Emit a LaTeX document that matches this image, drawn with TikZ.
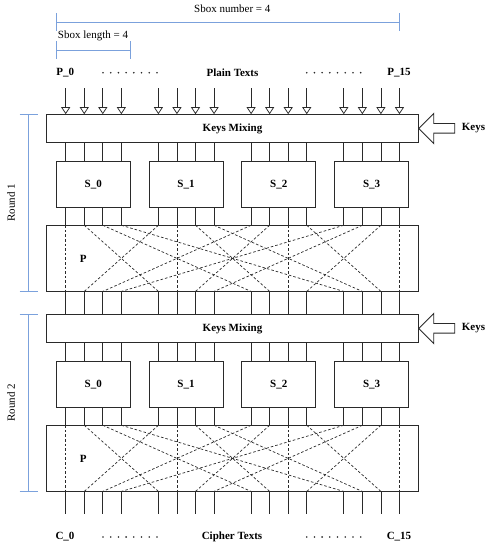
\documentclass[tikz,border=0pt]{standalone}
\usepackage{fontspec}
\setmainfont{Liberation Serif}
\usetikzlibrary{arrows.meta,calc}
\definecolor{dimblue}{HTML}{7BA1DC}
\definecolor{boxline}{HTML}{2A2A2A}
\tikzset{
  box/.style={draw=boxline, line width=0.85pt, minimum width=#1, inner sep=0pt},
  wire/.style={draw=boxline, line width=0.75pt},
  perm/.style={draw=boxline, line width=0.7pt, dash pattern=on 2.6pt off 2pt},
  inarrow/.style={draw=boxline, line width=0.75pt, -{Triangle[open, width=9pt, length=7pt, line width=0.75pt]}},
  dim/.style={draw=dimblue, line width=0.9pt},
  lbl/.style={font=\fontsize{11}{13}\selectfont\bfseries, inner sep=0pt},
  dimlbl/.style={font=\fontsize{11}{13}\selectfont, inner sep=0pt},
  dotmark/.style={fill=boxline, draw=none},
}
\begin{document}
\begin{tikzpicture}[x=1pt, y=-1pt]
\useasboundingbox (0,0) rectangle (488,550);

% wire x positions
\foreach \g in {0,1,2,3}{
  \foreach \b in {0,1,2,3}{
    \pgfmathsetmacro{\xx}{65.7+\b*18.55+\g*92.7}
    \pgfmathtruncatemacro{\ii}{4*\g+\b}
    \coordinate (w\ii) at (\xx,0);
  }
}

% dimension lines
\coordinate (nl) at (56.3,22);
\coordinate (nr) at (399.3,22);
\draw[dim] (nl) -- (nr);
\draw[dim] ($(nl)+(0,-9)$) -- ($(nl)+(0,9)$);
\draw[dim] ($(nr)+(0,-9)$) -- ($(nr)+(0,9)$);
\node[dimlbl] (sbn) at (232.3,9) {Sbox number = 4};
\coordinate (ll) at (56.3,50);
\coordinate (lr) at (130.3,50);
\draw[dim] (ll) -- (lr);
\draw[dim] ($(ll)+(0,-9)$) -- ($(ll)+(0,8.5)$);
\draw[dim] ($(lr)+(0,-9)$) -- ($(lr)+(0,8.5)$);
\node[dimlbl] (sbl) at (93,36.3) {Sbox length = 4};

% top labels
\node[lbl] (p0) at (65.3,73) {P\_0};
\node[lbl] (plain) at (232.5,73) {Plain Texts};
\node[lbl] (p15) at (399,73) {P\_15};
\foreach \k in {0,...,7}{
  \fill[dotmark] (103+\k*7.71,72.7) circle (0.9);
  \fill[dotmark] (306.7+\k*7.71,72.7) circle (0.9);
}

% rounds
\foreach \r/\oy in {1/0, 2/200}{
  \node[box=371.6pt, minimum height=27.8pt] (km\r) at (232.5,128.5+\oy) {};
  \node[lbl] at (km\r) {Keys Mixing};
  \node[lbl] (k\r) at (473.5,128.5+\oy) {Keys};
  \draw[draw=boxline, line width=0.85pt] (km\r.east) -- ++(15,-15) -- ++(0,10) -- ++(21,0) -- ++(0,9.6) -- ++(-21,0) -- ++(0,10.4) -- cycle;
  \foreach \s/\sx in {0/93.3, 1/186, 2/278.7, 3/371.65}{
    \node[box=74pt, minimum height=46.7pt, lbl] (s\r\s) at (\sx,184.3+\oy) {S\_\s};
  }
  \node[box=371.6pt, minimum height=65.3pt] (pb\r) at (232.5,258.35+\oy) {};
  \node[lbl] (pl\r) at (83.3,258.5+\oy) {P};
  % wires keys mixing -> sboxes -> P
  \foreach \g in {0,1,2,3}{
    \foreach \b in {0,1,2,3}{
      \pgfmathtruncatemacro{\ii}{4*\g+\b}
      \pgfmathtruncatemacro{\jj}{4*\b+\g}
      \draw[wire] (km\r.south -| w\ii) -- (s\r\g.north -| w\ii);
      \draw[wire] (s\r\g.south -| w\ii) -- (pb\r.north -| w\ii);
      \draw[perm] (pb\r.north -| w\ii) -- (pb\r.south -| w\jj);
    }
  }
  % round bracket
  \coordinate (rt\r) at (28.5,114.6+\oy);
  \coordinate (rb\r) at (28.5,291+\oy);
  \draw[dim] (rt\r) -- (rb\r);
  \draw[dim] ($(rt\r)+(-9,0)$) -- ($(rt\r)+(9,0)$);
  \draw[dim] ($(rb\r)+(-9,0)$) -- ($(rb\r)+(9,0)$);
  \node[dimlbl, rotate=90] (rl\r) at (11,203+\oy) {Round \r};
}

% input arrows
\foreach \i in {0,...,15}{
  \coordinate (in\i) at ($(w\i)+(0,88)$);
  \draw[inarrow] (in\i) -- (km1.north -| in\i);
}
% P1 -> KM2
\foreach \i in {0,...,15}{
  \draw[wire] (pb1.south -| w\i) -- (km2.north -| w\i);
  \coordinate (out\i) at ($(w\i)+(0,514)$);
  \draw[wire] (pb2.south -| w\i) -- (out\i);
}

% bottom labels
\node[lbl] (c0) at (65,537) {C\_0};
\node[lbl] (cipher) at (232,537) {Cipher Texts};
\node[lbl] (c15) at (399,537) {C\_15};
\foreach \k in {0,...,7}{
  \fill[dotmark] (103+\k*7.71,537) circle (0.9);
  \fill[dotmark] (306.7+\k*7.71,537) circle (0.9);
}
\end{tikzpicture}
\end{document}
